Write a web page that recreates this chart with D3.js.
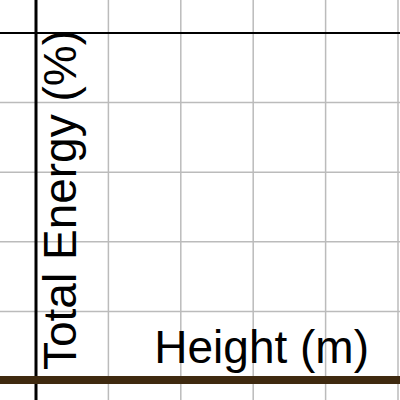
<!DOCTYPE html><html><head><script src="https://cdn.jsdelivr.net/npm/d3@7"></script>
<style>body{margin:0;background:#fff}</style></head><body><svg id="c" width="400" height="400"></svg>
<script>
const xTicks=[0,1,2,3,4,5];
const yTicks=[0,1,2,3,4,5];
const xLabel="Height (m)";
const yLabel="Total Energy (%)";
const svg=d3.select("#c");
const x=d3.scaleLinear().domain([0,5]).range([36,398]);
const y=d3.scaleLinear().domain([0,5]).range([381,33]);
svg.append("rect").attr("width",400).attr("height",400).attr("fill","#fff");
svg.selectAll(".vg").data(xTicks.slice(1)).join("line").attr("x1",d=>x(d)).attr("x2",d=>x(d)).attr("y1",0).attr("y2",400).attr("stroke","#bbb").attr("stroke-width",1.5);
svg.selectAll(".hg").data(yTicks.slice(1,5)).join("line").attr("y1",d=>y(d)).attr("y2",d=>y(d)).attr("x1",0).attr("x2",400).attr("stroke","#bbb").attr("stroke-width",1.5);
svg.append("line").attr("x1",0).attr("x2",400).attr("y1",y(5)).attr("y2",y(5)).attr("stroke","#000").attr("stroke-width",2);
svg.append("line").attr("x1",x(0)).attr("x2",x(0)).attr("y1",0).attr("y2",400).attr("stroke","#000").attr("stroke-width",3);
svg.append("line").attr("x1",0).attr("x2",400).attr("y1",y(0)-1).attr("y2",y(0)-1).attr("stroke","#3f2a10").attr("stroke-width",8);
svg.append("text").text(xLabel).attr("x",369).attr("y",363).attr("text-anchor","end").attr("font-family","Liberation Sans, Arial").attr("font-size",46).attr("fill","#000");
svg.append("text").text(yLabel).attr("transform","translate(76,370) rotate(-90)").attr("font-family","Liberation Sans, Arial").attr("font-size",46).attr("fill","#000");
</script></body></html>
